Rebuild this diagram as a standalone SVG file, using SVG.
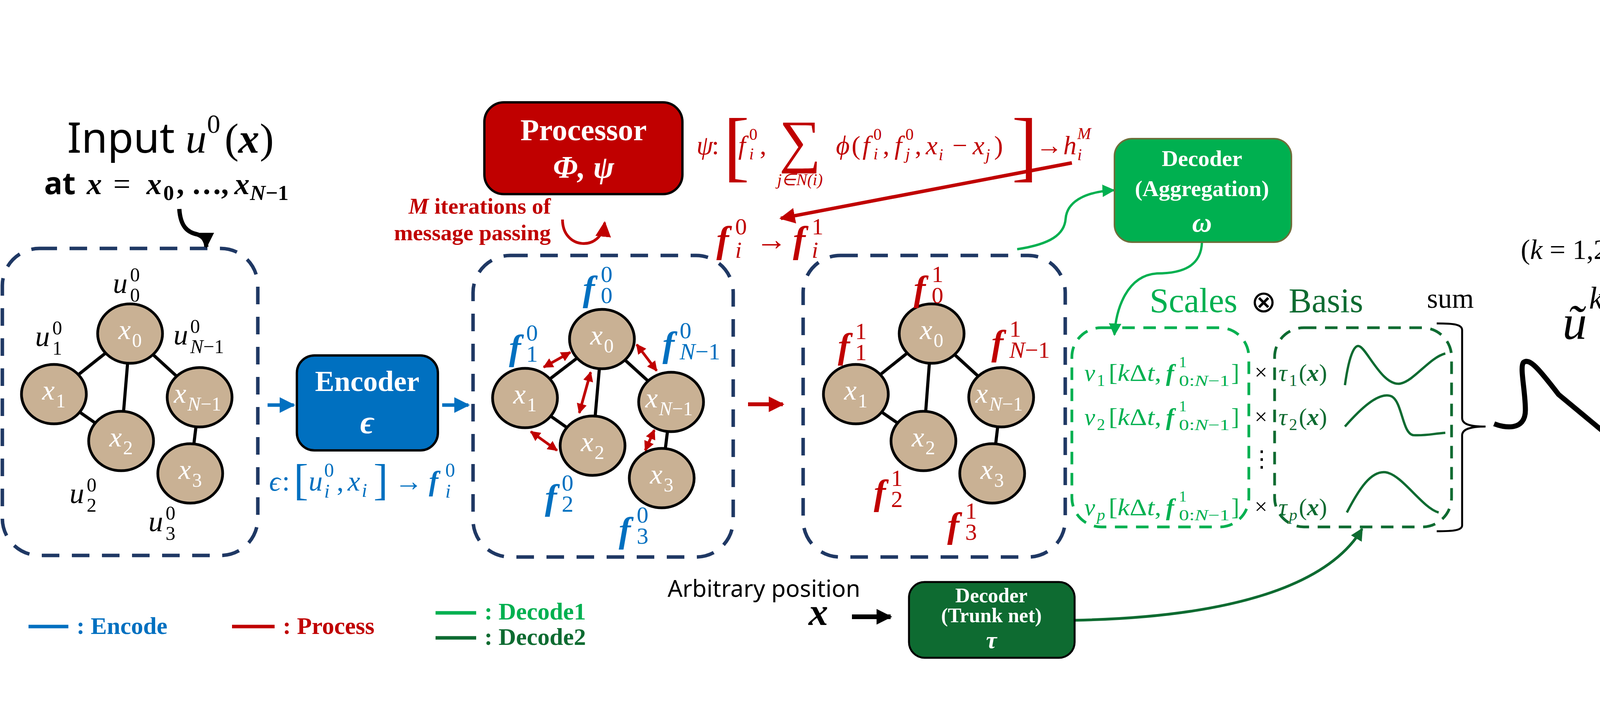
<svg xmlns="http://www.w3.org/2000/svg" width="4413" height="1810" viewBox="0 0 4413 1810">
<style>
text{font-family:"Liberation Serif",serif}
.it{font-style:italic}
.b{font-weight:bold}
.nd{fill:#C9B194;stroke:#000;stroke-width:7}
.nt{fill:#fff;font-style:italic;font-size:72px}
.ns{fill:#fff;font-size:50px}
.ed{stroke:#000;stroke-width:8}
.dbox{fill:none;stroke:#1F3864;stroke-width:9;stroke-dasharray:45 32}
.k{fill:#000}
.bl{fill:#0070C0}
.rd{fill:#C00000}
.gr{fill:#00B050}
.dg{fill:#0E6B31}
.sc{font-size:50px}
</style>
<defs>
<marker id="ab" viewBox="0 0 10 10" refX="9" refY="5" markerWidth="40" markerHeight="40" markerUnits="userSpaceOnUse" orient="auto"><path d="M0,0L10,5L0,10z" fill="#0070C0"/></marker>
<marker id="ar" viewBox="0 0 10 10" refX="9" refY="5" markerWidth="40" markerHeight="40" markerUnits="userSpaceOnUse" orient="auto"><path d="M0,0L10,5L0,10z" fill="#C00000"/></marker>
<marker id="ar2" viewBox="0 0 10 10" refX="9" refY="5" markerWidth="26" markerHeight="26" markerUnits="userSpaceOnUse" orient="auto-start-reverse"><path d="M0,0L10,5L0,10z" fill="#C00000"/></marker>
<marker id="ag" viewBox="0 0 10 10" refX="9" refY="5" markerWidth="32" markerHeight="32" markerUnits="userSpaceOnUse" orient="auto"><path d="M0,0L10,5L0,10z" fill="#00B050"/></marker>
<marker id="adg" viewBox="0 0 10 10" refX="9" refY="5" markerWidth="32" markerHeight="32" markerUnits="userSpaceOnUse" orient="auto"><path d="M0,0L10,5L0,10z" fill="#0E6B31"/></marker>
<marker id="ak" viewBox="0 0 10 10" refX="9" refY="5" markerWidth="40" markerHeight="40" markerUnits="userSpaceOnUse" orient="auto"><path d="M0,0L10,5L0,10z" fill="#000"/></marker>
</defs>
<rect width="4413" height="1810" fill="#fff"/>

<g id="input-title">
<text x="172" y="391" style="font-family:'Noto Sans',sans-serif" font-size="108">Input</text>
<text x="475" y="391" class="it" font-size="108">u</text><text x="530" y="340" font-size="68">0</text>
<text x="575" y="391" font-size="108">(</text><text x="610" y="391" class="it b" font-size="108">x</text><text x="665" y="391" font-size="108">)</text>
<text x="113" y="497" class="b" font-size="78" style="font-family:'Noto Sans',sans-serif">at</text>
<text x="222" y="497" class="it b" font-size="78">x</text><text x="290" y="497" font-size="78">=</text>
<text x="375" y="497" class="it b" font-size="78">x</text><text x="418" y="512" class="b" font-size="55">0</text>
<text x="452" y="497" class="b" font-size="78">,</text><text x="490" y="497" class="b" font-size="78">…</text><text x="566" y="497" class="b" font-size="78">,</text>
<text x="600" y="497" class="it b" font-size="78">x</text><text x="640" y="512" class="b it" font-size="55">N</text><text x="680" y="512" class="b" font-size="55">−1</text>
</g>

<g id="box-input"><rect x="6" y="636" width="654" height="786" rx="95" class="dbox"/></g>
<g id="box-encoded"><rect x="1211" y="654" width="666" height="772" rx="95" class="dbox"/></g>
<g id="box-processed"><rect x="2056" y="654" width="671" height="772" rx="95" class="dbox"/></g>

<g id="connectors" fill="none">
<path d="M459,535 C462,580 480,595 505,600 C520,605 528,615 528,632" stroke="#000" stroke-width="11" marker-end="url(#ak)"/>
<line x1="333" y1="854" x2="138" y2="1009" class="ed"/><line x1="333" y1="854" x2="310" y2="1129" class="ed"/><line x1="333" y1="854" x2="511" y2="1017" class="ed"/><line x1="138" y1="1009" x2="310" y2="1129" class="ed"/><line x1="511" y1="1017" x2="487" y2="1212" class="ed"/>
<line x1="1541" y1="868" x2="1344" y2="1019" class="ed"/><line x1="1541" y1="868" x2="1517" y2="1141" class="ed"/><line x1="1541" y1="868" x2="1718" y2="1029" class="ed"/><line x1="1344" y1="1019" x2="1517" y2="1141" class="ed"/><line x1="1718" y1="1029" x2="1694" y2="1224" class="ed"/>
<line x1="2385" y1="854" x2="2191" y2="1009" class="ed"/><line x1="2385" y1="854" x2="2364" y2="1129" class="ed"/><line x1="2385" y1="854" x2="2563" y2="1017" class="ed"/><line x1="2191" y1="1009" x2="2364" y2="1129" class="ed"/><line x1="2563" y1="1017" x2="2540" y2="1212" class="ed"/>
<line x1="685" y1="1037" x2="752" y2="1037" stroke="#0070C0" stroke-width="9" marker-end="url(#ab)"/>
<line x1="1132" y1="1037" x2="1199" y2="1037" stroke="#0070C0" stroke-width="9" marker-end="url(#ab)"/>
<line x1="1915" y1="1035" x2="2004" y2="1035" stroke="#C00000" stroke-width="10" marker-end="url(#ar)"/>
<g stroke="#C00000" stroke-width="7">
<line x1="1392" y1="940" x2="1460" y2="902" marker-start="url(#ar2)" marker-end="url(#ar2)"/>
<line x1="1512" y1="953" x2="1483" y2="1057" marker-start="url(#ar2)" marker-end="url(#ar2)"/>
<line x1="1630" y1="882" x2="1681" y2="949" marker-start="url(#ar2)" marker-end="url(#ar2)"/>
<line x1="1359" y1="1105" x2="1426" y2="1153" marker-start="url(#ar2)" marker-end="url(#ar2)"/>
<line x1="1675" y1="1101" x2="1652" y2="1153" marker-start="url(#ar2)" marker-end="url(#ar2)"/>
</g>
<path d="M1440,562 C1440,640 1540,645 1548,570" stroke="#C00000" stroke-width="7" marker-end="url(#ar)"/>
<line x1="2744" y1="417" x2="1999" y2="559" stroke="#C00000" stroke-width="9" marker-end="url(#ar)"/>
<path d="M2604,638 C2690,625 2725,600 2728,560 C2732,510 2790,490 2851,487" stroke="#00B050" stroke-width="6" marker-end="url(#ag)"/>
<path d="M3077,620 C3075,680 3030,700 2962,700 C2885,705 2857,790 2853,857" stroke="#00B050" stroke-width="6" marker-end="url(#ag)"/>
<path d="M2751,1588 C3150,1580 3400,1500 3487,1354" stroke="#0E6B31" stroke-width="7" marker-end="url(#adg)"/>
<line x1="2181" y1="1579" x2="2280" y2="1579" stroke="#000" stroke-width="12" marker-end="url(#ak)"/>
</g>

<g id="L0"><ellipse cx="333" cy="854" rx="83" ry="76" class="nd"/><text x="303" y="868" class="nt">x</text><text x="338" y="888" class="ns">0</text></g>
<g id="L1"><ellipse cx="138" cy="1009" rx="83" ry="76" class="nd"/><text x="108" y="1023" class="nt">x</text><text x="143" y="1043" class="ns">1</text></g>
<g id="L2"><ellipse cx="310" cy="1129" rx="83" ry="76" class="nd"/><text x="280" y="1143" class="nt">x</text><text x="315" y="1163" class="ns">2</text></g>
<g id="LN"><ellipse cx="511" cy="1017" rx="83" ry="76" class="nd"/><text x="445" y="1031" class="nt">x</text><text x="480" y="1051" class="ns"><tspan class="it">N</tspan>−1</text></g>
<g id="L3"><ellipse cx="487" cy="1212" rx="83" ry="76" class="nd"/><text x="457" y="1226" class="nt">x</text><text x="492" y="1246" class="ns">3</text></g>
<g id="u-labels" font-size="75">
<text x="289" y="750" class="it">u</text><text x="333" y="720" class="sc">0</text><text x="333" y="772" class="sc">0</text>
<text x="90" y="886" class="it">u</text><text x="134" y="856" class="sc">0</text><text x="134" y="908" class="sc">1</text>
<text x="444" y="882" class="it">u</text><text x="487" y="852" class="sc">0</text><text x="487" y="904" class="sc"><tspan class="it">N</tspan>−1</text>
<text x="178" y="1288" class="it">u</text><text x="222" y="1258" class="sc">0</text><text x="222" y="1310" class="sc">2</text>
<text x="380" y="1360" class="it">u</text><text x="424" y="1330" class="sc">0</text><text x="424" y="1382" class="sc">3</text>
</g>

<g id="encoder"><rect x="760" y="910" width="361" height="243" rx="45" fill="#0070C0" stroke="#000" stroke-width="6"/>
<text x="940" y="1001" text-anchor="middle" class="b" font-size="74" fill="#fff">Encoder</text>
<text x="940" y="1109" text-anchor="middle" class="b it" font-size="84" fill="#fff">ϵ</text></g>
<g id="enc-formula" class="bl" font-size="72">
<text x="689" y="1256" class="it">ϵ</text><text x="722" y="1256">:</text>
<text x="752" y="1266" font-size="112">[</text>
<text x="790" y="1256" class="it">u</text><text x="830" y="1220" class="sc">0</text><text x="830" y="1274" class="sc it">i</text>
<text x="862" y="1256">,</text><text x="890" y="1256" class="it">x</text><text x="926" y="1272" class="sc it">i</text>
<text x="956" y="1266" font-size="112">]</text>
<text x="1010" y="1256">→</text>
<text x="1098" y="1256" class="it b">f</text><text x="1140" y="1220" class="sc">0</text><text x="1140" y="1274" class="sc it">i</text>
</g>

<g id="processor"><rect x="1240" y="262" width="507" height="235" rx="50" fill="#C00000" stroke="#000" stroke-width="6"/>
<text x="1494" y="359" text-anchor="middle" class="b" font-size="78" fill="#fff">Processor</text>
<text x="1494" y="455" text-anchor="middle" class="b it" font-size="80" fill="#fff">Φ, ψ</text></g>
<g id="proc-note" class="rd b" font-size="58" text-anchor="end">
<text x="1410" y="547"><tspan class="it">M</tspan> iterations of</text>
<text x="1410" y="615">message passing</text>
</g>
<g id="psi-formula" class="rd" font-size="68">
<text x="1783" y="395" class="it">ψ</text><text x="1822" y="395">:</text>
<text x="1852" y="440" font-size="200">[</text>
<text x="1890" y="395" class="it">f</text><text x="1918" y="358" font-size="42">0</text><text x="1918" y="408" font-size="42" class="it">i</text><text x="1945" y="395">,</text>
<text x="2048" y="412" font-size="150" text-anchor="middle">∑</text>
<text x="2048" y="474" font-size="42" text-anchor="middle" class="it">j∈N(i)</text>
<text x="2140" y="395" class="it">ϕ</text><text x="2180" y="395">(</text>
<text x="2208" y="395" class="it">f</text><text x="2236" y="358" font-size="42">0</text><text x="2236" y="408" font-size="42" class="it">i</text><text x="2260" y="395">,</text>
<text x="2290" y="395" class="it">f</text><text x="2318" y="358" font-size="42">0</text><text x="2318" y="408" font-size="42" class="it">j</text><text x="2342" y="395">,</text>
<text x="2370" y="395" class="it">x</text><text x="2403" y="410" font-size="42" class="it">i</text>
<text x="2438" y="395">−</text>
<text x="2490" y="395" class="it">x</text><text x="2523" y="410" font-size="42" class="it">j</text>
<text x="2545" y="395">)</text>
<text x="2590" y="440" font-size="200">]</text>
<text x="2652" y="395">→</text>
<text x="2722" y="395" class="it">h</text><text x="2758" y="356" font-size="42" class="it">M</text><text x="2758" y="410" font-size="42" class="it">i</text>
</g>
<g id="f-update" class="rd" font-size="96">
<text x="1834" y="646" class="it b">f</text><text x="1882" y="600" font-size="60">0</text><text x="1882" y="660" font-size="60" class="it">i</text>
<text x="1935" y="640" font-size="80">→</text>
<text x="2030" y="646" class="it b">f</text><text x="2078" y="600" font-size="60">1</text><text x="2078" y="660" font-size="60" class="it">i</text>
</g>

<g id="M0"><ellipse cx="1541" cy="868" rx="83" ry="76" class="nd"/><text x="1511" y="882" class="nt">x</text><text x="1546" y="902" class="ns">0</text></g>
<g id="M1"><ellipse cx="1344" cy="1019" rx="83" ry="76" class="nd"/><text x="1314" y="1033" class="nt">x</text><text x="1349" y="1053" class="ns">1</text></g>
<g id="M2"><ellipse cx="1517" cy="1141" rx="83" ry="76" class="nd"/><text x="1487" y="1155" class="nt">x</text><text x="1522" y="1175" class="ns">2</text></g>
<g id="MN"><ellipse cx="1718" cy="1029" rx="83" ry="76" class="nd"/><text x="1652" y="1043" class="nt">x</text><text x="1687" y="1063" class="ns"><tspan class="it">N</tspan>−1</text></g>
<g id="M3"><ellipse cx="1694" cy="1224" rx="83" ry="76" class="nd"/><text x="1664" y="1238" class="nt">x</text><text x="1699" y="1258" class="ns">3</text></g>
<g id="f0-labels" class="bl" font-size="92">
<text x="1492" y="770" class="it b">f</text><text x="1538" y="722" font-size="60">0</text><text x="1538" y="776" font-size="60">0</text>
<text x="1303" y="921" class="it b">f</text><text x="1347" y="872" font-size="60">0</text><text x="1347" y="926" font-size="60">1</text>
<text x="1696" y="913" class="it b">f</text><text x="1740" y="866" font-size="60">0</text><text x="1740" y="920" font-size="60"><tspan class="it">N</tspan>−1</text>
<text x="1395" y="1304" class="it b">f</text><text x="1438" y="1256" font-size="60">0</text><text x="1438" y="1310" font-size="60">2</text>
<text x="1584" y="1388" class="it b">f</text><text x="1630" y="1338" font-size="60">0</text><text x="1630" y="1392" font-size="60">3</text>
</g>

<g id="R0"><ellipse cx="2385" cy="854" rx="83" ry="76" class="nd"/><text x="2355" y="868" class="nt">x</text><text x="2390" y="888" class="ns">0</text></g>
<g id="R1"><ellipse cx="2191" cy="1009" rx="83" ry="76" class="nd"/><text x="2161" y="1023" class="nt">x</text><text x="2196" y="1043" class="ns">1</text></g>
<g id="R2"><ellipse cx="2364" cy="1129" rx="83" ry="76" class="nd"/><text x="2334" y="1143" class="nt">x</text><text x="2369" y="1163" class="ns">2</text></g>
<g id="RN"><ellipse cx="2563" cy="1017" rx="83" ry="76" class="nd"/><text x="2497" y="1031" class="nt">x</text><text x="2532" y="1051" class="ns"><tspan class="it">N</tspan>−1</text></g>
<g id="R3"><ellipse cx="2540" cy="1212" rx="83" ry="76" class="nd"/><text x="2510" y="1226" class="nt">x</text><text x="2545" y="1246" class="ns">3</text></g>
<g id="f1-labels" class="rd" font-size="92">
<text x="2339" y="770" class="it b">f</text><text x="2385" y="722" font-size="60">1</text><text x="2385" y="776" font-size="60">0</text>
<text x="2145" y="917" class="it b">f</text><text x="2189" y="868" font-size="60">1</text><text x="2189" y="922" font-size="60">1</text>
<text x="2538" y="909" class="it b">f</text><text x="2584" y="862" font-size="60">1</text><text x="2584" y="916" font-size="60"><tspan class="it">N</tspan>−1</text>
<text x="2237" y="1292" class="it b">f</text><text x="2281" y="1244" font-size="60">1</text><text x="2281" y="1298" font-size="60">2</text>
<text x="2425" y="1376" class="it b">f</text><text x="2471" y="1328" font-size="60">1</text><text x="2471" y="1382" font-size="60">3</text>
</g>

<g id="decoder-agg"><rect x="2853" y="355" width="453" height="265" rx="45" fill="#00B050" stroke="#6E6E3A" stroke-width="4"/>
<text x="3077" y="425" text-anchor="middle" class="b" font-size="58" fill="#fff">Decoder</text>
<text x="3077" y="502" text-anchor="middle" class="b" font-size="58" fill="#fff">(Aggregation)</text>
<text x="3077" y="593" text-anchor="middle" class="b it" font-size="70" fill="#fff">ω</text></g>

<g id="scales-basis" font-size="88">
<text x="2943" y="799" class="gr">Scales</text>
<text x="3235" y="799" text-anchor="middle" style="font-family:'DejaVu Sans',sans-serif" font-size="78">⊗</text>
<text x="3299" y="799" class="dg">Basis</text>
<text x="3653" y="788" font-size="72">sum</text>
<text x="3893" y="663" font-size="72">(<tspan class="it">k</tspan> = 1,2, … )</text>
<text x="4000" y="868" class="it" font-size="125">ũ</text><text x="4068" y="790" class="it" font-size="80">k</text><text x="4110" y="868" font-size="125">(<tspan class="it b">x</tspan>)</text>
</g>

<g id="scales-box"><rect x="2744" y="839" width="453" height="510" rx="75" fill="none" stroke="#00B050" stroke-width="7" stroke-dasharray="32 22"/>
<g class="gr" font-size="62">
<text x="2776" y="975" class="it">ν</text><text x="2808" y="988" font-size="42">1</text><text x="2838" y="975" textLength="135" lengthAdjust="spacingAndGlyphs">[<tspan class="it">k</tspan>Δ<tspan class="it">t</tspan>,</text><text x="2985" y="975" class="it b">f</text><text x="3018" y="940" font-size="40">1</text><text x="3018" y="988" font-size="40" textLength="130" lengthAdjust="spacingAndGlyphs">0:<tspan class="it">N</tspan>−1</text><text x="3152" y="975">]</text>
<text x="2776" y="1088" class="it">ν</text><text x="2808" y="1101" font-size="42">2</text><text x="2838" y="1088" textLength="135" lengthAdjust="spacingAndGlyphs">[<tspan class="it">k</tspan>Δ<tspan class="it">t</tspan>,</text><text x="2985" y="1088" class="it b">f</text><text x="3018" y="1053" font-size="40">1</text><text x="3018" y="1101" font-size="40" textLength="130" lengthAdjust="spacingAndGlyphs">0:<tspan class="it">N</tspan>−1</text><text x="3152" y="1088">]</text>
<text x="2776" y="1319" class="it">ν</text><text x="2808" y="1332" font-size="42" class="it">p</text><text x="2838" y="1319" textLength="135" lengthAdjust="spacingAndGlyphs">[<tspan class="it">k</tspan>Δ<tspan class="it">t</tspan>,</text><text x="2985" y="1319" class="it b">f</text><text x="3018" y="1284" font-size="40">1</text><text x="3018" y="1332" font-size="40" textLength="130" lengthAdjust="spacingAndGlyphs">0:<tspan class="it">N</tspan>−1</text><text x="3152" y="1319">]</text>
</g></g>
<g id="times" font-size="58">
<text x="3228" y="972" text-anchor="middle">×</text><text x="3228" y="1086" text-anchor="middle">×</text><text x="3230" y="1195" text-anchor="middle">⋮</text><text x="3228" y="1316" text-anchor="middle">×</text>
</g>
<g id="basis-box"><rect x="3263" y="839" width="453" height="510" rx="75" fill="none" stroke="#0E6B31" stroke-width="7" stroke-dasharray="32 22"/>
<g class="dg" font-size="62">
<text x="3273" y="975" class="it">τ</text><text x="3300" y="988" font-size="42">1</text><text x="3325" y="975">(<tspan class="it b">x</tspan>)</text>
<text x="3273" y="1088" class="it">τ</text><text x="3300" y="1101" font-size="42">2</text><text x="3325" y="1088">(<tspan class="it b">x</tspan>)</text>
<text x="3273" y="1319" class="it">τ</text><text x="3300" y="1332" font-size="42" class="it">p</text><text x="3325" y="1319">(<tspan class="it b">x</tspan>)</text>
</g>
<g fill="none" stroke="#0E6B31" stroke-width="6">
<path d="M3443,986 C3455,900 3470,880 3481,887 C3500,895 3540,990 3585,982 C3620,975 3660,915 3700,905"/>
<path d="M3443,1092 C3480,1050 3530,1000 3563,1015 C3590,1030 3590,1110 3618,1114 C3650,1116 3670,1110 3700,1108"/>
<path d="M3448,1312 C3480,1250 3510,1205 3547,1209 C3590,1215 3640,1300 3683,1312"/>
</g></g>
<path id="sum-brace" d="M3678,828 C3720,828 3743,830 3743,845 L3743,1070 C3743,1085 3760,1092 3803,1092 C3760,1092 3743,1100 3743,1115 L3743,1345 C3743,1358 3720,1360 3678,1360" fill="none" stroke="#000" stroke-width="5"/>
<path id="output-curve" d="M3825,1085 C3850,1095 3905,1105 3905,1050 C3905,1000 3890,940 3900,928 C3915,915 3940,945 3990,1010 L4195,1180 C4225,1210 4240,1200 4243,1160 C4245,1110 4240,1070 4260,1060 C4280,1050 4330,1055 4385,1055" fill="none" stroke="#000" stroke-width="13" stroke-linejoin="round"/>

<g id="position">
<text x="1709" y="1528" style="font-family:'Noto Sans',sans-serif" font-size="60">Arbitrary position</text>
<text x="2070" y="1600" class="it b" font-size="100">x</text>
</g>
<g id="decoder-trunk"><rect x="2327" y="1490" width="424" height="194" rx="40" fill="#0E6B31" stroke="#000" stroke-width="5"/>
<text x="2538" y="1542" text-anchor="middle" class="b" font-size="52" fill="#fff">Decoder</text>
<text x="2538" y="1593" text-anchor="middle" class="b" font-size="52" fill="#fff">(Trunk net)</text>
<text x="2538" y="1659" text-anchor="middle" class="b it" font-size="62" fill="#fff">τ</text></g>

<g id="legend" class="b" font-size="62">
<line x1="73" y1="1604" x2="175" y2="1604" stroke="#0070C0" stroke-width="9"/><text x="196" y="1623" class="bl">: Encode</text>
<line x1="594" y1="1604" x2="703" y2="1604" stroke="#C00000" stroke-width="9"/><text x="724" y="1623" class="rd">: Process</text>
<line x1="1115" y1="1569" x2="1219" y2="1569" stroke="#00B050" stroke-width="9"/><text x="1240" y="1586" class="gr">: Decode1</text>
<line x1="1115" y1="1633" x2="1219" y2="1633" stroke="#0E6B31" stroke-width="9"/><text x="1240" y="1651" class="dg">: Decode2</text>
</g>
</svg>
